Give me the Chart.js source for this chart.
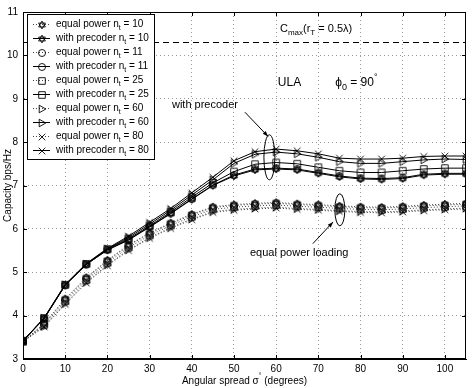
<!DOCTYPE html>
<html>
<head>
<meta charset="utf-8">
<script src="https://cdn.jsdelivr.net/npm/chart.js@4.4.0/dist/chart.umd.min.js"></script>
<style>
html, body { margin: 0; padding: 0; background: #fff; }
#wrap { width: 474px; height: 388px; }
</style>
</head>
<body>
<div id="wrap"><canvas id="myChart" width="474" height="388"></canvas></div>
<script>
// angular spread (degrees)
var spread = [0, 5, 10, 15, 20, 25, 30, 35, 40, 45, 50, 55, 60, 65, 70, 75, 80, 85, 90, 95, 100, 105];
var xTicks = [0, 10, 20, 30, 40, 50, 60, 70, 80, 90, 100];
var yTicks = [3, 4, 5, 6, 7, 8, 9, 10, 11];

// equal power loading
var eq10 = [3.40, 3.82, 4.39, 4.88, 5.28, 5.63, 5.91, 6.14, 6.34, 6.51, 6.56, 6.59, 6.61, 6.58, 6.56, 6.53, 6.51, 6.50, 6.52, 6.55, 6.57, 6.59];
var eq11 = [3.40, 3.81, 4.37, 4.86, 5.26, 5.61, 5.89, 6.12, 6.32, 6.49, 6.54, 6.57, 6.59, 6.56, 6.54, 6.51, 6.49, 6.48, 6.50, 6.53, 6.55, 6.57];
var eq25 = [3.40, 3.78, 4.33, 4.82, 5.22, 5.57, 5.85, 6.08, 6.28, 6.45, 6.50, 6.53, 6.55, 6.52, 6.50, 6.47, 6.45, 6.44, 6.46, 6.49, 6.51, 6.53];
var eq60 = [3.40, 3.75, 4.28, 4.77, 5.17, 5.52, 5.80, 6.03, 6.23, 6.40, 6.45, 6.48, 6.50, 6.47, 6.45, 6.42, 6.40, 6.39, 6.41, 6.44, 6.46, 6.48];
var eq80 = [3.40, 3.74, 4.26, 4.75, 5.15, 5.50, 5.78, 6.01, 6.21, 6.38, 6.43, 6.46, 6.48, 6.45, 6.43, 6.40, 6.38, 6.37, 6.39, 6.42, 6.44, 6.46];

// with precoder
var pre10 = [3.42, 3.93, 4.70, 5.18, 5.51, 5.74, 6.04, 6.35, 6.68, 7.00, 7.22, 7.36, 7.38, 7.36, 7.28, 7.20, 7.15, 7.14, 7.16, 7.24, 7.26, 7.26];
var pre11 = [3.42, 3.93, 4.70, 5.18, 5.52, 5.75, 6.05, 6.36, 6.69, 7.01, 7.24, 7.38, 7.40, 7.38, 7.30, 7.22, 7.17, 7.16, 7.18, 7.26, 7.28, 7.28];
var pre25 = [3.42, 3.94, 4.71, 5.19, 5.53, 5.77, 6.07, 6.39, 6.73, 7.06, 7.32, 7.49, 7.53, 7.50, 7.42, 7.34, 7.30, 7.30, 7.34, 7.38, 7.40, 7.40];
var pre60 = [3.42, 3.94, 4.71, 5.19, 5.54, 5.80, 6.11, 6.43, 6.78, 7.13, 7.51, 7.72, 7.77, 7.73, 7.65, 7.55, 7.51, 7.51, 7.55, 7.59, 7.61, 7.60];
var pre80 = [3.42, 3.95, 4.72, 5.20, 5.55, 5.83, 6.15, 6.47, 6.83, 7.19, 7.57, 7.78, 7.84, 7.80, 7.73, 7.63, 7.61, 7.61, 7.63, 7.67, 7.68, 7.68];

var cmax = 10.3;

var FONT = '"Liberation Sans", Arial, Helvetica, sans-serif';

// hollow matlab-like markers
function makeMarker(kind) {
    var c = document.createElement('canvas');
    c.width = 10; c.height = 10;
    var g = c.getContext('2d');
    g.strokeStyle = '#000';
    g.lineWidth = 0.9;
    g.translate(5, 5);
    g.beginPath();
    if (kind === 'hex') {
        for (var k = 0; k < 2; k++) {
            for (var j = 0; j < 3; j++) {
                var ang = (k * 60 - 90 + j * 120) * Math.PI / 180;
                var px = 3.9 * Math.cos(ang), py = 3.9 * Math.sin(ang);
                if (j === 0) g.moveTo(px, py); else g.lineTo(px, py);
            }
            g.closePath();
        }
    } else if (kind === 'circle') {
        g.arc(0, 0, 3.5, 0, Math.PI * 2);
    } else if (kind === 'square') {
        g.rect(-3.3, -3.3, 6.6, 6.6);
    } else if (kind === 'tri') {
        g.moveTo(3.8, 0); g.lineTo(-2.8, -3.8); g.lineTo(-2.8, 3.8); g.closePath();
    } else {
        g.moveTo(-3.3, -3.3); g.lineTo(3.3, 3.3); g.moveTo(-3.3, 3.3); g.lineTo(3.3, -3.3);
    }
    g.stroke();
    return c;
}

var markers = {
    10: makeMarker('hex'),
    11: makeMarker('circle'),
    25: makeMarker('square'),
    60: makeMarker('tri'),
    80: makeMarker('x')
};

function pts(arr) {
    return arr.map(function (v, i) { return { x: spread[i], y: v }; });
}

function series(label, arr, nt, dotted) {
    return {
        label: label,
        nt: nt,
        dotted: dotted,
        data: pts(arr),
        borderColor: dotted ? '#444' : '#000',
        borderWidth: 1,
        borderDash: dotted ? [1, 2] : [],
        pointStyle: markers[nt],
        pointRadius: 4,
        fill: false,
        tension: 0
    };
}

var datasets = [
    series('equal power n_t = 10', eq10, 10, true),
    series('with precoder n_t = 10', pre10, 10, false),
    series('equal power n_t = 11', eq11, 11, true),
    series('with precoder n_t = 11', pre11, 11, false),
    series('equal power n_t = 25', eq25, 25, true),
    series('with precoder n_t = 25', pre25, 25, false),
    series('equal power n_t = 60', eq60, 60, true),
    series('with precoder n_t = 60', pre60, 60, false),
    series('equal power n_t = 80', eq80, 80, true),
    series('with precoder n_t = 80', pre80, 80, false)
];

// text with sub/superscripts
function rich(ctx, x, y, parts, size, align) {
    var total = 0;
    parts.forEach(function (p) {
        ctx.font = (p.s ? Math.round(size * 0.72) : size) + 'px ' + FONT;
        p.w = ctx.measureText(p.t).width;
        total += p.w;
    });
    if (align === 'center') x -= total / 2;
    ctx.textAlign = 'left';
    ctx.textBaseline = 'middle';
    parts.forEach(function (p) {
        ctx.font = (p.s ? Math.round(size * 0.72) : size) + 'px ' + FONT;
        var dy = p.s === 'sub' ? size * 0.35 : (p.s === 'sup' ? -size * 0.45 : 0);
        ctx.fillText(p.t, x, y + dy);
        x += p.w;
    });
}

function arrow(ctx, x1, y1, x2, y2) {
    ctx.beginPath();
    ctx.moveTo(x1, y1);
    ctx.lineTo(x2, y2);
    ctx.stroke();
    var ang = Math.atan2(y2 - y1, x2 - x1);
    ctx.beginPath();
    ctx.moveTo(x2, y2);
    ctx.lineTo(x2 - 6 * Math.cos(ang - 0.35), y2 - 6 * Math.sin(ang - 0.35));
    ctx.lineTo(x2 - 6 * Math.cos(ang + 0.35), y2 - 6 * Math.sin(ang + 0.35));
    ctx.closePath();
    ctx.fill();
}

var decor = {
    id: 'decor',
    beforeDatasetsDraw: function (chart) {
        var ctx = chart.ctx, a = chart.chartArea;
        var ys = chart.scales.y;
        // C_max dashed line
        ctx.save();
        ctx.strokeStyle = '#000';
        ctx.lineWidth = 1;
        ctx.setLineDash([6, 4]);
        ctx.beginPath();
        var yy = Math.round(ys.getPixelForValue(cmax)) + 0.5;
        ctx.moveTo(a.left, yy);
        ctx.lineTo(a.right, yy);
        ctx.stroke();
        ctx.restore();
    },
    afterDraw: function (chart) {
        var ctx = chart.ctx, a = chart.chartArea;
        var xs = chart.scales.x, ys = chart.scales.y;
        ctx.save();
        ctx.strokeStyle = '#000';
        ctx.fillStyle = '#000';
        ctx.lineWidth = 1;

        // box
        ctx.strokeRect(a.left + 0.5, a.top + 0.5, a.right - a.left - 1, a.bottom - a.top - 1);

        // inner tick marks
        ctx.beginPath();
        xTicks.forEach(function (v) {
            var px = Math.round(xs.getPixelForValue(v)) + 0.5;
            ctx.moveTo(px, a.bottom); ctx.lineTo(px, a.bottom - 4);
            ctx.moveTo(px, a.top); ctx.lineTo(px, a.top + 4);
        });
        yTicks.forEach(function (v) {
            var py = Math.round(ys.getPixelForValue(v)) + 0.5;
            ctx.moveTo(a.left, py); ctx.lineTo(a.left + 4, py);
            ctx.moveTo(a.right, py); ctx.lineTo(a.right - 4, py);
        });
        ctx.stroke();

        // annotations
        rich(ctx, xs.getPixelForValue(60.9), ys.getPixelForValue(10.6),
            [{ t: 'C' }, { t: 'max', s: 'sub' }, { t: '(r' }, { t: 'T', s: 'sub' }, { t: ' = 0.5\u03bb)' }], 11);
        rich(ctx, xs.getPixelForValue(60.4), ys.getPixelForValue(9.36), [{ t: 'ULA' }], 12);
        rich(ctx, xs.getPixelForValue(74.0), ys.getPixelForValue(9.36),
            [{ t: '\u03d5' }, { t: '0', s: 'sub' }, { t: ' = 90' }, { t: '\u00b0', s: 'sup' }], 12);

        rich(ctx, xs.getPixelForValue(35.3), ys.getPixelForValue(8.86), [{ t: 'with precoder' }], 11);
        arrow(ctx, xs.getPixelForValue(52.6), ys.getPixelForValue(8.69), xs.getPixelForValue(58.1), ys.getPixelForValue(8.13));
        ctx.beginPath();
        ctx.ellipse(xs.getPixelForValue(58.4), ys.getPixelForValue(7.65), 5.5, 22.5, 0, 0, Math.PI * 2);
        ctx.stroke();

        rich(ctx, xs.getPixelForValue(53.8), ys.getPixelForValue(5.45), [{ t: 'equal power loading' }], 11);
        arrow(ctx, xs.getPixelForValue(68.7), ys.getPixelForValue(5.66), xs.getPixelForValue(73.5), ys.getPixelForValue(6.16));
        ctx.beginPath();
        ctx.ellipse(xs.getPixelForValue(75.1), ys.getPixelForValue(6.44), 5, 16, 0, 0, Math.PI * 2);
        ctx.stroke();

        // legend
        var lx = 27, ly = 14, lw = 127, lh = 145;
        ctx.fillStyle = '#fff';
        ctx.fillRect(lx, ly, lw, lh);
        ctx.strokeRect(lx + 0.5, ly + 0.5, lw, lh);
        ctx.fillStyle = '#000';
        chart.data.datasets.forEach(function (ds, i) {
            var ry = Math.round(23.5 + i * 14) + 0.5;
            ctx.save();
            ctx.strokeStyle = ds.borderColor;
            ctx.setLineDash(ds.borderDash);
            ctx.beginPath();
            ctx.moveTo(33, ry); ctx.lineTo(50, ry);
            ctx.stroke();
            ctx.restore();
            var m = markers[ds.nt];
            ctx.drawImage(m, 37, Math.round(ry - m.height / 2));
            var name = ds.dotted ? 'equal power n' : 'with precoder n';
            rich(ctx, 56, ry, [{ t: name }, { t: 't', s: 'sub' }, { t: ' = ' + ds.nt }], 10);
        });

        // axis titles
        rich(ctx, (a.left + a.right) / 2, 381,
            [{ t: 'Angular spread \u03c3' }, { t: '\u00b0', s: 'sup' }, { t: ' (degrees)' }], 10, 'center');
        ctx.save();
        ctx.translate(8, (a.top + a.bottom) / 2);
        ctx.rotate(-Math.PI / 2);
        rich(ctx, 0, 0, [{ t: 'Capacity bps/Hz' }], 10, 'center');
        ctx.restore();

        ctx.restore();
    }
};

var ctx = document.getElementById('myChart').getContext('2d');
var chart = new Chart(ctx, {
    type: 'line',
    data: { datasets: datasets },
    plugins: [decor],
    options: {
        responsive: false,
        animation: false,
        devicePixelRatio: 1,
        layout: { padding: { left: 0, top: 12, right: 8, bottom: 0 } },
        plugins: { legend: { display: false }, tooltip: { enabled: false } },
        scales: {
            x: {
                type: 'linear',
                min: 0,
                max: 105,
                afterBuildTicks: function (s) { s.ticks = xTicks.map(function (v) { return { value: v }; }); },
                afterFit: function (s) { s.height = 29; },
                grid: { color: '#999', drawTicks: false },
                border: { color: '#000', dash: [1, 3] },
                ticks: { color: '#000', padding: 4, maxRotation: 0, font: { family: FONT, size: 10 } }
            },
            y: {
                min: 3,
                max: 11,
                afterBuildTicks: function (s) { s.ticks = yTicks.map(function (v) { return { value: v }; }); },
                afterFit: function (s) { s.width = 23; },
                grid: { color: '#999', drawTicks: false },
                border: { color: '#000', dash: [1, 3] },
                ticks: { color: '#000', padding: 5, font: { family: FONT, size: 10 } }
            }
        }
    }
});
</script>
</body>
</html>
